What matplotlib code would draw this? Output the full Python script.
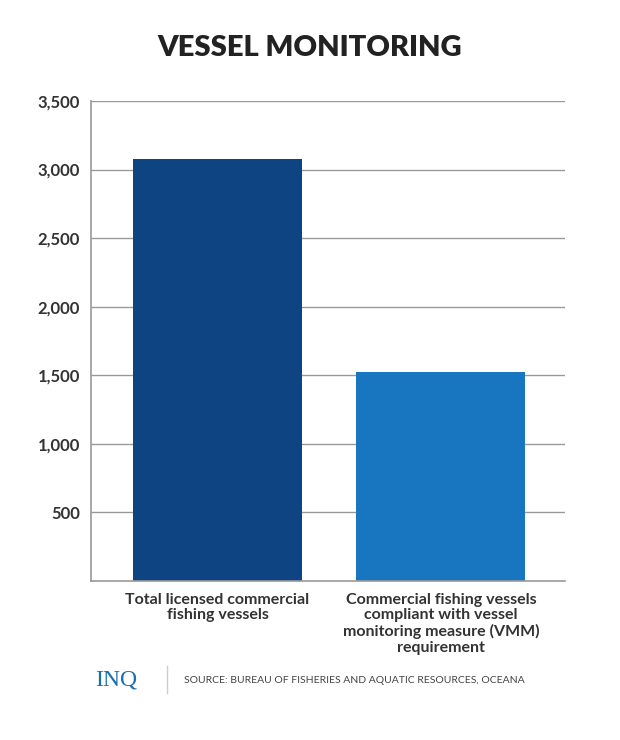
import matplotlib
matplotlib.use('Agg')
import matplotlib.pyplot as plt

# Dane
categories = ['Total licensed commercial\nfishing vessels',
              'Commercial fishing vessels\ncompliant with vessel\nmonitoring measure (VMM)\nrequirement']
values = [3075, 1522]
colors = ['#0e4481', '#1876c0']
yticks = [500, 1000, 1500, 2000, 2500, 3000, 3500]

plt.rcParams['font.family'] = ['Lato', 'DejaVu Sans']

fig = plt.figure(figsize=(6.2, 7.4), dpi=100)
ax = fig.add_axes([0.147, 0.2155, 0.764, 0.648])

ax.bar(range(len(values)), values, width=0.756, color=colors, zorder=2)
ax.set_xlim(-0.566, 1.555)
ax.set_ylim(0, 3500)
ax.set_yticks(yticks)
ax.set_yticklabels([f'{v:,}' for v in yticks], fontsize=12, fontweight='bold', color='#333333')
ax.yaxis.grid(True, color='#999999', linewidth=1, zorder=0)
ax.tick_params(axis='y', length=0, pad=8)
ax.set_xticks([])
for s in ['top', 'right']:
    ax.spines[s].set_visible(False)
for s in ['left', 'bottom']:
    ax.spines[s].set_color('#999999')
    ax.spines[s].set_linewidth(1.2)

for i, c in enumerate(categories):
    ax.text(i, -0.025, c, transform=ax.get_xaxis_transform(), ha='center', va='top',
            fontsize=11.5, fontweight='bold', color='#333333', linespacing=1.15)

fig.text(0.5, 0.935, 'VESSEL MONITORING', ha='center', va='center',
         fontsize=21, fontweight='heavy', color='#222222')

fig.text(0.153, 0.081, 'INQ', ha='left', va='center', fontsize=17,
         family=['Liberation Serif', 'DejaVu Serif'], color='#1a6fb0')
fig.add_artist(plt.Line2D([0.27, 0.27], [0.063, 0.1], color='#cccccc', linewidth=1))
fig.text(0.297, 0.081, 'SOURCE: BUREAU OF FISHERIES AND AQUATIC RESOURCES, OCEANA',
         ha='left', va='center', fontsize=7.5, color='#444444')

fig.savefig('out.png', dpi=100, facecolor='white')
